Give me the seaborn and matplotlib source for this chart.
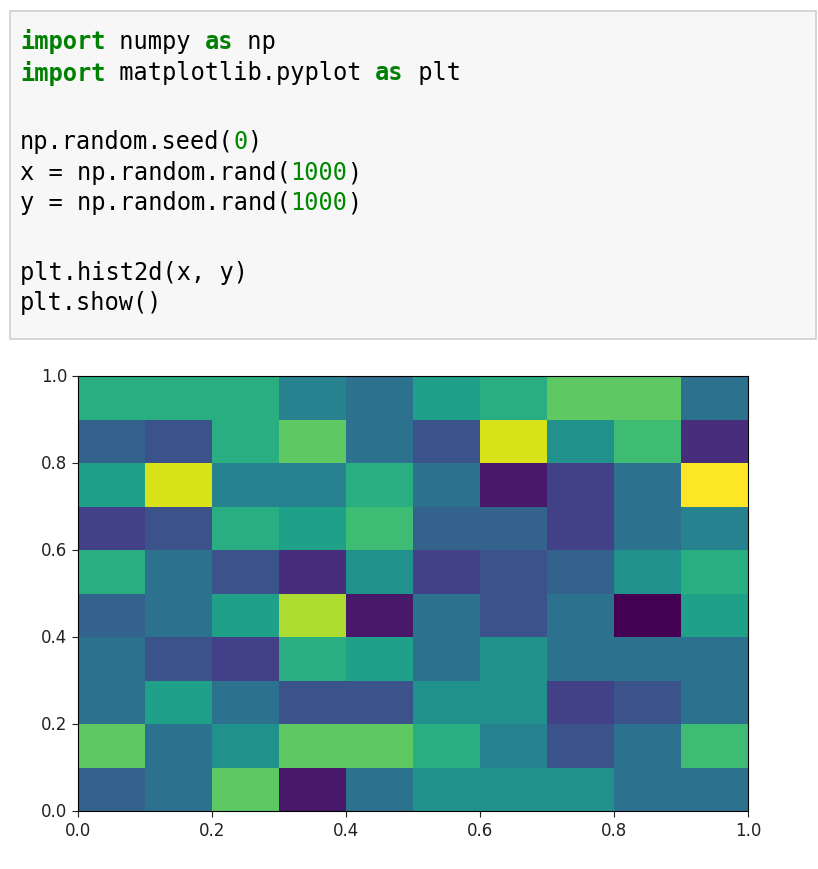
import numpy as np
import matplotlib.pyplot as plt
import seaborn as sns

# Notebook cell text: (text, colour, bold) segments per line
code_lines = [
    [("import", "#008000", True), (" numpy ", "#000000", False), ("as", "#008000", True), (" np", "#000000", False)],
    [("import", "#008000", True), (" matplotlib.pyplot ", "#000000", False), ("as", "#008000", True), (" plt", "#000000", False)],
    [],
    [("np.random.seed(", "#000000", False), ("0", "#008800", False), (")", "#000000", False)],
    [("x = np.random.rand(", "#000000", False), ("1000", "#008800", False), (")", "#000000", False)],
    [("y = np.random.rand(", "#000000", False), ("1000", "#008800", False), (")", "#000000", False)],
    [],
    [("plt.hist2d(x, y)", "#000000", False)],
    [("plt.show()", "#000000", False)],
]

# Estimated bin counts read from colours, rows from top (y 0.9-1.0) to bottom
counts = [
    [12, 12, 12, 9, 8, 11, 12, 14, 14, 8],
    [7, 6, 12, 14, 8, 6, 17, 10, 13, 4],
    [11, 17, 9, 9, 12, 8, 3, 5, 8, 18],
    [5, 6, 12, 11, 13, 7, 7, 5, 8, 9],
    [12, 8, 6, 4, 10, 5, 6, 7, 10, 12],
    [7, 8, 11, 16, 3, 8, 6, 8, 2, 11],
    [8, 6, 5, 12, 11, 8, 10, 8, 8, 8],
    [8, 11, 8, 6, 6, 10, 10, 5, 6, 8],
    [14, 8, 10, 14, 14, 12, 9, 6, 8, 13],
    [7, 8, 14, 3, 8, 10, 10, 10, 8, 8],
]
tick_labels = ["0.0", "0.2", "0.4", "0.6", "0.8", "1.0"]

W, H = 818, 870
fig = plt.figure(figsize=(W / 100, H / 100), dpi=100)

# code cell box
box = plt.Rectangle((10 / W, 1 - 340 / H), 806 / W, 328 / H, transform=fig.transFigure,
                    facecolor="#f7f7f7", edgecolor="#cfcfcf", linewidth=1.2)
fig.patches.append(box)

fs = 17
char_w = 0.602 * fs * 100 / 72
line_y = [42, 73, 107, 142, 173, 203, 238, 273, 303]
for line, yy in zip(code_lines, line_y):
    col = 0
    for text, color, bold in line:
        fig.text((20 + col * char_w) / W, 1 - yy / H, text, family="DejaVu Sans Mono",
                 fontsize=fs, color=color, weight="bold" if bold else "normal", va="center")
        col += len(text)

ax = fig.add_axes([78 / W, 1 - 812 / H, 670 / W, 435 / H])
sns.heatmap(np.array(counts), cmap="viridis", cbar=False, ax=ax, linewidths=0)
for s in ax.spines.values():
    s.set_visible(True)
    s.set_color("black")
    s.set_linewidth(0.8)
ax.set_xticks(np.arange(0, 11, 2))
ax.set_xticklabels(tick_labels)
ax.set_yticks(np.arange(0, 11, 2))
ax.set_yticklabels(tick_labels[::-1], rotation=0)
ax.tick_params(labelsize=12, length=4, colors="#222222")

fig.savefig("out.png", dpi=100)
